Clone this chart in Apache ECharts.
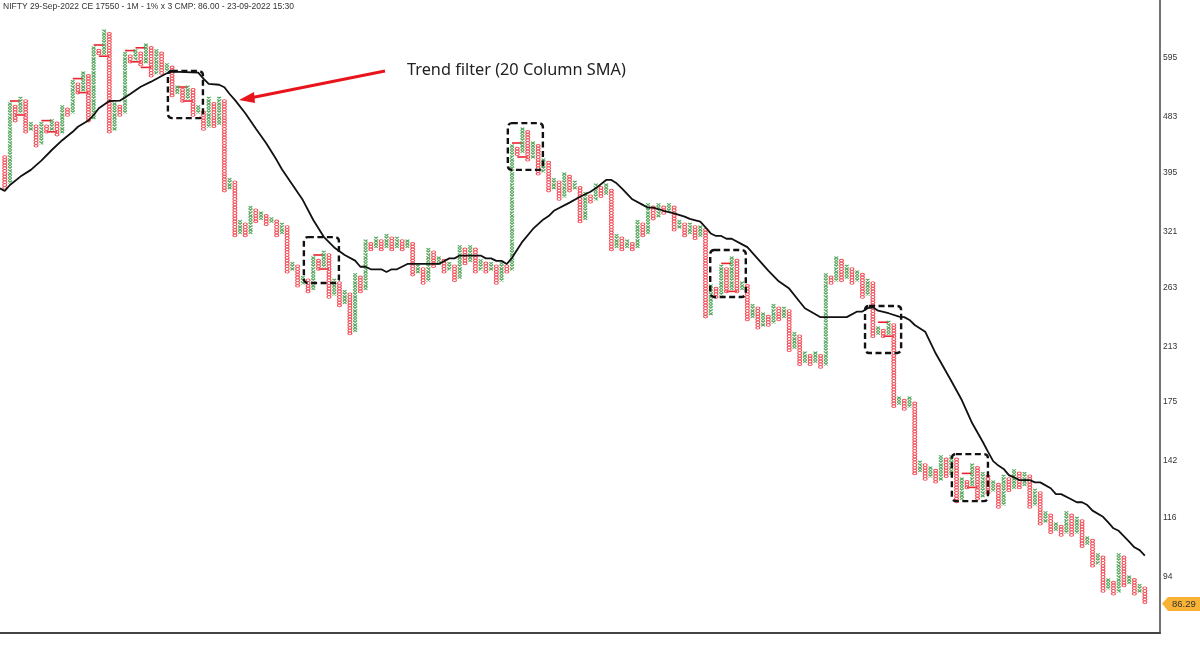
<!DOCTYPE html>
<html>
<head>
<meta charset="utf-8">
<title>NIFTY point and figure</title>
<script src="https://cdn.jsdelivr.net/npm/echarts@6/dist/echarts.min.js"></script>
<style>
  html, body { margin: 0; padding: 0; background: #fff; }
  #chart { width: 1200px; height: 645px; }
</style>
</head>
<body>
<div id="chart"></div>
<script>
// =========================== Data ===========================
// point & figure chart: 1% box, so levels are counted in boxes above BASE_PRICE
const BASE_PRICE = 77;
const BOX_SIZE = 1.01;
const LAST_PRICE = 86.29;
const titleText = 'NIFTY 29-Sep-2022 CE 17550 - 1M - 1% x 3 CMP: 86.00 - 23-09-2022 15:30';
const noteText = 'Trend filter (20 Column SMA)';
const tickPrices = [595, 483, 395, 321, 263, 213, 175, 142, 116, 94];

// columns alternate X (even index) and O (odd index)
const columnHigh = [
  171,170,189,188,191,190,182,181,182,181,
  183,182,188,187,197,196,200,199,209,208,
  215,214,189,188,207,206,208,207,210,209,
  208,207,203,202,195,194,195,194,188,186,
  191,189,191,190,162,161,147,146,152,151,
  150,149,148,147,146,145,132,131,127,126,
  134,133,136,135,126,125,122,121,128,127,
  140,139,141,140,142,141,141,140,140,139,
  131,130,137,136,134,133,132,131,138,137,
  138,137,133,132,132,131,132,131,174,173,
  180,179,175,174,169,168,162,161,164,163,
  161,159,157,156,160,159,160,158,142,141,
  140,139,147,146,153,152,153,152,153,152,
  147,146,146,145,145,144,124,123,131,130,
  134,133,125,124,117,116,114,113,117,116,
  116,115,107,106,100,99,100,99,128,127,
  134,133,131,130,129,128,126,125,109,108,
  111,110,84,83,84,82,61,60,59,58,
  63,62,63,62,55,54,60,59,57,56,
  54,53,56,55,58,57,57,56,51,50,
  43,42,39,38,43,42,41,40,34,33,
  28,27,19,18,28,27,20,19,17,16
];
const columnLow = [
  165,159,161,183,186,179,180,174,175,179,
  180,178,179,185,186,193,194,183,184,207,
  207,179,180,185,186,204,205,203,204,199,
  200,200,201,192,193,190,191,185,186,180,
  181,181,182,158,159,142,143,142,143,147,
  148,146,147,142,143,129,130,124,125,122,
  123,130,131,120,121,117,118,107,108,122,
  123,137,138,137,138,137,138,137,138,128,
  129,125,126,131,132,129,130,126,127,132,
  133,129,130,129,130,125,126,129,130,171,
  172,169,170,164,165,158,159,155,156,158,
  159,147,148,154,155,156,157,137,138,137,
  138,137,138,142,143,148,149,150,151,144,
  145,142,143,141,142,113,114,120,121,122,
  123,122,123,112,113,109,110,110,111,112,
  113,101,102,96,97,96,97,95,96,125,
  126,126,127,125,126,120,121,106,107,106,
  107,81,82,80,81,57,58,55,56,54,
  55,56,57,47,48,52,53,48,49,50,
  51,45,46,51,52,52,53,45,46,39,
  40,36,37,35,36,35,36,31,32,24,
  25,15,16,14,15,17,18,14,15,11
];

// 20 column SMA
const smaColumns = [
  0,1,2,4,6,8,10,12,14,15,17,18,19,21,23,25,27,29,31,32,33,38,39,40,42,43,44,45,47,49,
  51,53,54,58,60,62,64,66,68,69,70,71,73,74,75,76,78,84,86,87,88,92,93,94,95,96,97,98,
  100,102,104,105,106,109,111,113,114,116,117,118,119,121,123,124,125,127,129,131,132,
  134,135,136,137,138,139,140,142,143,145,147,149,151,153,154,157,162,164,165,166,167,
  168,170,172,173,174,175,177,179,182,184,186,188,189,190,191,192,193,194,195,197,198,
  199,201,202,203,205,206,207,208,209,211,212,213,214,216,217,218,219
];
const smaBoxes = [
  158.8,157.9,160,163,165.4,168.7,172.5,176,179,180.8,183,185,187.4,190,190.1,192.5,195.1,196.9,198.9,199.9,200.5,200.1,198,196.1,195.8,194.9,192.5,190.4,185.6,180.2,
  174.9,168.9,165.6,154.6,147.5,141.5,137.7,135,133,130.8,130.8,129.9,129.9,128.9,129.9,129.9,131.8,131.8,133.8,133.8,134.8,134.8,133.8,133.8,132.9,132.9,131.8,134,
  139.8,144.3,147.7,148.9,150.8,153.7,155.8,157.6,158.8,161.8,161.8,160.6,158.8,154.9,152.9,151.9,151.9,150.8,149.9,148.7,147.9,
  146.9,144.9,142.7,141.8,141.8,140.8,140.8,138.8,137.8,133.6,129.4,125.6,123,118.3,116,112.8,112.8,114.8,114.8,116,116.3,
  115.1,114.2,113,112.8,111.8,110,107.6,99.9,90,83.2,74.9,68.3,64.8,61.4,59.8,58.6,56.4,55.6,54.6,54.6,53.8,
  53.8,51.7,49.6,49.6,47.7,46.7,46.7,45.7,43.7,41.5,39.5,37.4,36.5,32.6,30.6,29.6,27.6
];

// red swing lines: first column, last column, box level
const swingFrom = [2,3,8,9,14,15,18,19,24,25,26,27,34,35,60,61,98,99,138,139,168,169,184,185];
const swingTo = [4,5,10,11,16,17,20,21,26,27,28,29,36,37,62,63,100,101,140,141,170,171,186,187];
const swingBox = [190,185,183,179,198,193,210,206,208,204,209,202,195,190,135,130,175,170,132,122,111,106,57,52];

// dashed highlight boxes
const boxFrom = [32.2,58.2,97.2,135.9,165.5,182.1];
const boxTo = [38.9,64.9,103.9,142.7,172.4,189];
const boxTop = [200.7,141.4,182.1,136.8,116.8,63.9];
const boxBottom = [183.9,125,165.4,120,100,47.1];

// =========================== Chart ===========================
const priceToBox = (price) => Math.log(price / BASE_PRICE) / Math.log(BOX_SIZE);
const boxToPrice = (box) => BASE_PRICE * Math.pow(BOX_SIZE, box);

const xMarks = [];
const oMarks = [];
columnHigh.forEach((high, col) => {
  for (let box = columnLow[col]; box <= high; box++) {
    (col % 2 === 0 ? xMarks : oMarks).push([col, box]);
  }
});

const chart = echarts.init(document.getElementById('chart'), null, { renderer: 'canvas' });

const fontName = '"Liberation Sans", Arial, sans-serif';
const noteFont = '"Noto Sans", sans-serif';

chart.setOption({
  animation: false,
  backgroundColor: '#fff',
  title: {
    text: titleText,
    left: 3,
    top: 2,
    padding: 0,
    textStyle: { fontSize: 8.5, fontWeight: 'normal', color: '#333', fontFamily: fontName }
  },
  grid: { left: 0, top: 0, width: 1160, height: 633, containLabel: false },
  xAxis: {
    type: 'value',
    min: 0.096,
    max: 221.9,
    axisLine: { show: true, onZero: false, lineStyle: { color: '#444', width: 2 } },
    axisTick: { show: false },
    axisLabel: { show: false },
    splitLine: { show: false }
  },
  yAxis: {
    type: 'value',
    position: 'right',
    min: 0,
    max: 226.07,
    axisLine: { show: true, onZero: false, lineStyle: { color: '#444', width: 1.5 } },
    axisTick: { show: false },
    axisLabel: {
      customValues: tickPrices.map(priceToBox),
      formatter: (v) => String(Math.round(boxToPrice(v))),
      margin: 3,
      padding: [2, 0, 0, 0],
      fontSize: 8.5,
      color: '#333',
      fontFamily: fontName
    },
    splitLine: { show: false }
  },
  series: [
    {
      name: 'X',
      type: 'scatter',
      data: xMarks,
      symbol: 'path://M0 0L10 10M10 0L0 10',
      symbolSize: [3.8, 2.7],
      itemStyle: { color: 'none', borderColor: '#55a65c', borderWidth: 1.05, opacity: 1 },
      progressive: 0,
      silent: true
    },
    {
      name: 'O',
      type: 'scatter',
      data: oMarks,
      symbol: 'circle',
      symbolSize: [3.9, 2.7],
      itemStyle: { color: 'none', borderColor: '#f04e58', borderWidth: 1.05, opacity: 1 },
      progressive: 0,
      silent: true
    },
    {
      name: 'Swing',
      type: 'custom',
      data: swingBox.map((box, i) => [swingFrom[i], swingTo[i], box]),
      renderItem: (params, api) => {
        const a = api.coord([api.value(0), api.value(2)]);
        const b = api.coord([api.value(1), api.value(2)]);
        return {
          type: 'line',
          shape: { x1: a[0], y1: a[1], x2: b[0], y2: b[1] },
          style: { stroke: '#e8232d', lineWidth: 1.6 }
        };
      },
      silent: true
    },
    {
      name: '20 Column SMA',
      type: 'line',
      data: smaColumns.map((col, i) => [col, smaBoxes[i]]),
      showSymbol: false,
      lineStyle: { color: '#111', width: 1.8 },
      z: 5,
      silent: true
    },
    {
      name: 'Highlight',
      type: 'custom',
      data: boxFrom.map((from, i) => [from, boxTo[i], boxTop[i], boxBottom[i]]),
      renderItem: (params, api) => {
        const a = api.coord([api.value(0), api.value(2)]);
        const b = api.coord([api.value(1), api.value(3)]);
        return {
          type: 'rect',
          shape: { x: a[0], y: a[1], width: b[0] - a[0], height: b[1] - a[1], r: 4 },
          style: { fill: 'none', stroke: '#111', lineWidth: 2.4, lineDash: [6, 3.5] }
        };
      },
      z: 6,
      silent: true
    }
  ],
  graphic: [
    // arrow pointing at the SMA
    { type: 'line', shape: { x1: 385, y1: 71, x2: 250, y2: 98 }, style: { stroke: '#e8141c', lineWidth: 3 }, z: 10 },
    { type: 'polygon', shape: { points: [[239, 100], [254, 92], [255, 103]] }, style: { fill: '#e8141c' }, z: 10 },
    { type: 'text', left: 407, top: 62, style: { text: noteText, fontSize: 16.3, fill: '#222', fontFamily: noteFont }, z: 10 },
    // last price tag
    { type: 'polygon', shape: { points: [[1162, 603.5], [1168, 597], [1200, 597], [1200, 611], [1168, 611]] }, style: { fill: '#f9b233' }, z: 10 },
    { type: 'text', left: 1172, top: 599.5, style: { text: LAST_PRICE.toFixed(2), fontSize: 9.5, fill: '#333', fontFamily: fontName }, z: 11 }
  ]
});
</script>
</body>
</html>
